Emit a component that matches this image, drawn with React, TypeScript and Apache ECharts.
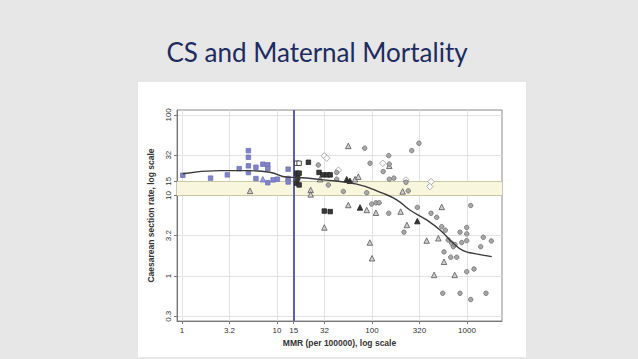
import React, { useEffect, useRef } from "react";
import * as echarts from "echarts";

// ---------- data (MMR per 100000, CS rate %) ----------
const blueSquares: [number, number][] = [
  [1.02, 17.8], [2.0, 16.4], [3.0, 18.0], [4.0, 21.5], [5.0, 36], [5.0, 29.8], [5.0, 23.3], [5.0, 19.2],
  [6.0, 22.4], [6.0, 16.2], [7.1, 24.4], [8.0, 24], [8.0, 21.5], [8.0, 14.4], [9.1, 15.6], [10.1, 15.9],
  [13.1, 21.2], [13.1, 16.2], [13.1, 14.7],
];
const blueTriangles: [number, number][] = [[7.1, 15.9]];
const darkSquares: [number, number][] = [
  [21.4, 25.8], [16.1, 18.9], [17.1, 18.9], [16.5, 16.4], [16.1, 14.2], [17.1, 13.5],
  [27.7, 19.3], [30.3, 18], [33.8, 18], [36.3, 18], [31.5, 6.4], [36.3, 6.3],
];
const openSquares: [number, number][] = [[16.1, 25.1], [17.1, 25.1]];
const greyTriangles: [number, number][] = [
  [5.2, 11.4], [22.6, 11.7], [22.6, 10.3], [28.4, 15.9], [56.3, 41.2], [66.3, 15.9], [71.8, 17.1],
  [152, 23.3], [56.3, 7.6], [210, 11.2], [88, 6.6], [110, 6.1], [200, 6.3], [233, 4.3], [542, 7.2],
  [376, 2.75], [499, 2.94], [573, 1.5], [450, 1.03], [742, 1.03], [95, 2.6], [100, 1.66], [31.5, 4.0],
];
const darkTriangles: [number, number][] = [[54.2, 15.9], [58.6, 15.2], [74.8, 7.1], [300, 4.8]];
const diamonds: [number, number][] = [
  [31.5, 31], [33.4, 29], [44.3, 20.6], [130, 25.1], [228, 15.6], [418, 14.8], [406, 12.9],
];
const circles: [number, number][] = [
  [27.2, 23.9], [42.5, 19.3], [42.5, 15.9], [34.7, 13.5], [49.9, 11.2], [88, 10.8], [83.8, 38.6],
  [95.3, 25.1], [150, 31.2], [152, 24.5], [131, 19.8], [152, 15.9], [170, 16.4], [228, 14.6],
  [241, 11.4], [312, 44.5], [262, 36], [99.1, 7.8], [110, 8.1], [119, 8.1], [150, 6.0], [300, 7.1],
  [1094, 7.5], [418, 6.0], [480, 5.35], [217, 3.5], [542, 4.1], [591, 3.7], [844, 3.5], [993, 4.0],
  [993, 3.33], [993, 2.75], [880, 2.6], [635, 2.8], [690, 2.55], [718, 2.31], [748, 2.45], [573, 1.99],
  [674, 1.71], [779, 1.71], [993, 1.13], [1185, 1.22], [1393, 2.31], [1485, 3.02], [1803, 2.72],
  [555, 0.61], [844, 0.61], [1094, 0.51], [1585, 0.61],
];
const trendCurve: [number, number][] = [
  [1.02, 18.6], [2.51, 20.3], [5.03, 20.3], [8.4, 19.4], [12.9, 16.8], [16.1, 16.7], [30.7, 15.6],
  [69, 13.8], [131, 10.6], [182, 8.8], [250, 6.6], [376, 4.96], [520, 3.72], [718, 2.55], [912, 2.06],
  [1170, 1.91], [1820, 1.74],
];
const xTicks = [1, 3.1623, 10, 15, 31.623, 100, 316.23, 1000];
const xTickLabels = ["1", "3.2", "10", "15", "32", "100", "320", "1000"];
const yTicks = [0.31623, 1, 3.1623, 10, 15, 31.623, 100];
const yTickLabels = ["0.3", "1", "3.2", "10", "15", "32", "100"];
const bandRange = [10, 15];
const referenceMMR = 15;

const labelFor = (ticks: number[], labels: string[]) => (v: number) => {
  let best = 0;
  for (let i = 1; i < ticks.length; i++) {
    if (Math.abs(Math.log(ticks[i]) - Math.log(v)) < Math.abs(Math.log(ticks[best]) - Math.log(v))) best = i;
  }
  return labels[best];
};

export default function App() {
  const ref = useRef<HTMLDivElement>(null);
  useEffect(() => {
    if (!ref.current) return;
    const chart = echarts.init(ref.current, null, { renderer: "svg" });
    const font = "Liberation Sans, Arial, sans-serif";
    const scatter = (name: string, data: [number, number][], symbol: string, size: number, color: string, border: string, z = 5) => ({
      name,
      type: "scatter",
      data,
      symbol,
      symbolSize: size,
      z,
      itemStyle: { color, borderColor: border, borderWidth: 0.8, opacity: 1 },
    });
    chart.setOption({
      animation: false,
      backgroundColor: "#e7e7e7",
      graphic: [
        { type: "rect", z: -10, shape: { x: 138, y: 82, width: 388, height: 275 }, style: { fill: "#ffffff" } },
        {
          type: "text", z: 10, x: 317, y: 52,
          style: { text: "CS and Maternal Mortality", fontFamily: "Lato, Carlito, sans-serif", fontSize: 26, fill: "#1c2c60", align: "center", verticalAlign: "middle" },
        },
      ],
      grid: { left: 177, top: 110, right: 136, bottom: 38, show: true, borderColor: "#8a8a8a", borderWidth: 1, backgroundColor: "#ffffff" },
      xAxis: {
        type: "log",
        min: 0.886,
        max: 2335,
        name: "MMR (per 100000), log scale",
        nameLocation: "middle",
        nameGap: 17,
        nameTextStyle: { fontFamily: font, fontWeight: "bold", fontSize: 8.5, color: "#333" },
        axisLine: { show: true, lineStyle: { color: "#777", width: 1 } },
        axisTick: { show: true, length: 3, customValues: xTicks, lineStyle: { color: "#777" } },
        axisLabel: { customValues: xTicks, formatter: labelFor(xTicks, xTickLabels), fontFamily: font, fontSize: 8, color: "#333", margin: 5 },
        splitLine: { show: true, lineStyle: { color: "#e2e2e2", width: 1 } },
        minorTick: { show: false },
      },
      yAxis: {
        type: "log",
        min: 0.276,
        max: 115,
        name: "Caesarean section rate, log scale",
        nameLocation: "middle",
        nameGap: 22,
        nameTextStyle: { fontFamily: font, fontWeight: "bold", fontSize: 8.5, color: "#333" },
        axisLine: { show: true, lineStyle: { color: "#777", width: 1 } },
        axisTick: { show: true, length: 3, customValues: yTicks, lineStyle: { color: "#777" } },
        axisLabel: { customValues: yTicks, formatter: labelFor(yTicks, yTickLabels), rotate: 90, fontFamily: font, fontSize: 8, color: "#333", margin: 5 },
        splitLine: { show: true, lineStyle: { color: "#e2e2e2", width: 1 } },
      },
      series: [
        {
          name: "trend",
          type: "line",
          data: trendCurve,
          smooth: true,
          showSymbol: false,
          z: 6,
          lineStyle: { color: "#3a3a3a", width: 1.4 },
          markArea: {
            silent: true,
            itemStyle: { color: "#f8f6dc" },
            data: [[{ yAxis: bandRange[0] }, { yAxis: bandRange[1] }]],
          },
          markLine: {
            silent: true,
            symbol: "none",
            label: { show: false },
            data: [
              { yAxis: bandRange[0], lineStyle: { color: "#c9c7a4", width: 1, type: "solid" } },
              { yAxis: bandRange[1], lineStyle: { color: "#c9c7a4", width: 1, type: "solid" } },
              { xAxis: referenceMMR, lineStyle: { color: "#5c5fb3", width: 2, type: "solid" } },
            ],
          },
        },
        scatter("blue squares", blueSquares, "rect", 4.5, "#8083c8", "#7073bb"),
        scatter("blue triangles", blueTriangles, "triangle", 5.5, "#9a9dd6", "#6c70b8"),
        scatter("dark squares", darkSquares, "rect", 4.5, "#3a3a3a", "#222"),
        scatter("open squares", openSquares, "rect", 4.5, "#ffffff", "#222"),
        scatter("grey triangles", greyTriangles, "triangle", 5.5, "#d0d0d0", "#555"),
        scatter("dark triangles", darkTriangles, "triangle", 5.5, "#333", "#222"),
        scatter("diamonds", diamonds, "diamond", 6.5, "#ffffff", "#9a9a9a"),
        scatter("circles", circles, "circle", 4.5, "#a8a8a8", "#707070"),
      ],
    });
    return () => chart.dispose();
  }, []);
  return <div ref={ref} style={{ position: "fixed", left: 0, top: 0, width: 638, height: 359 }} />;
}
